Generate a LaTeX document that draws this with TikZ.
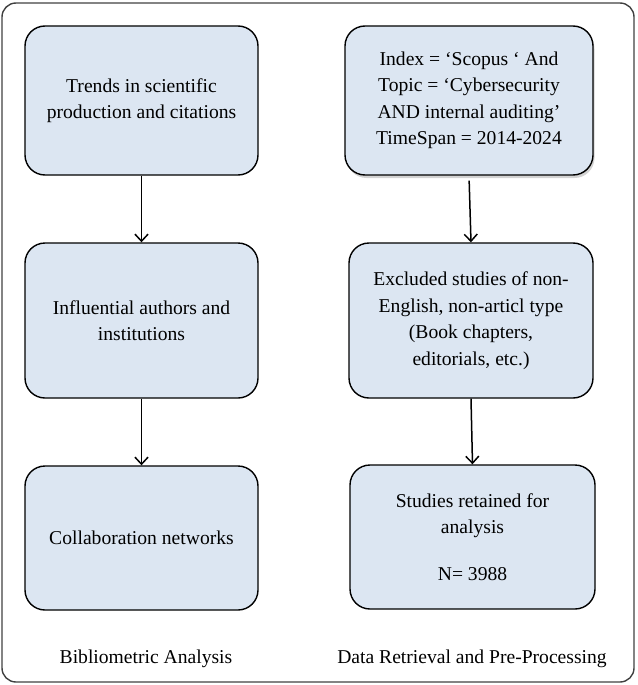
\documentclass[tikz,border=0pt]{standalone}
\usepackage{fontspec}
\setmainfont{Liberation Serif}
\usetikzlibrary{shadows,arrows.meta}
\definecolor{boxblue}{HTML}{DCE6F2}
\tikzstyle{stage} = [draw=black, rectangle, rounded corners=20pt, fill=boxblue, text=black, line width=1.4pt, align=center, font=\fontsize{19.6}{26.5}\selectfont]
\tikzstyle{caption} = [text=black, font=\fontsize{19.6}{26.5}\selectfont]

\begin{document}
\begin{tikzpicture}[x=1pt, y=-1pt, >={Straight Barb[length=7pt,width=13pt]}]
            \useasboundingbox (0,0) rectangle (637,685);
            % Frame
            \draw[gray!50!black, line width=1.4pt, rounded corners=14pt] (2,3) rectangle (634,682);

            % Defining nodes
            \node[stage, minimum width=233pt, minimum height=149pt] (Trends) at (141.5,100.5) {Trends in scientific\\production and citations};
            \node[stage, minimum width=233pt, minimum height=155pt] (Authors) at (141.5,320.5) {Influential authors and\\institutions};
            \node[stage, minimum width=233pt, minimum height=144pt] (Networks) at (141.5,538) {Collaboration networks};
            \node[stage, minimum width=248pt, minimum height=149pt, drop shadow={shadow xshift=1.5pt, shadow yshift=-3pt, opacity=0.35}] (Query) at (469,100.5) {Index = ‘Scopus ‘ And\\Topic = ‘Cybersecurity\\AND internal auditing’\\TimeSpan = 2014-2024};
            \node[stage, minimum width=244pt, minimum height=155pt] (Excluded) at (471,320.5) {Excluded studies of non-\\English, non-articl type\\(Book chapters,\\editorials, etc.)};
            \node[stage, minimum width=245pt, minimum height=144pt] (Retained) at (472.5,537) {Studies retained for\\analysis\\[20pt]N= 3988};
            \node[caption] (LeftCap) at (146,659) {Bibliometric Analysis};
            \node[caption] (RightCap) at (472,659) {Data Retrieval and Pre-Processing};

            % Drawing diagram
            \draw[black, line width=1.5pt, ->] (Trends.south) -- (Authors.north);
            \draw[black, line width=1.5pt, ->] (Authors.south) -- (Networks.north);
            \draw[black, line width=1.5pt, ->, shorten <=5pt] (Query.south) -- (Excluded.north);
            \draw[black, line width=1.5pt, ->] (Excluded.south) -- (Retained.north);
        \end{tikzpicture}
\end{document}
